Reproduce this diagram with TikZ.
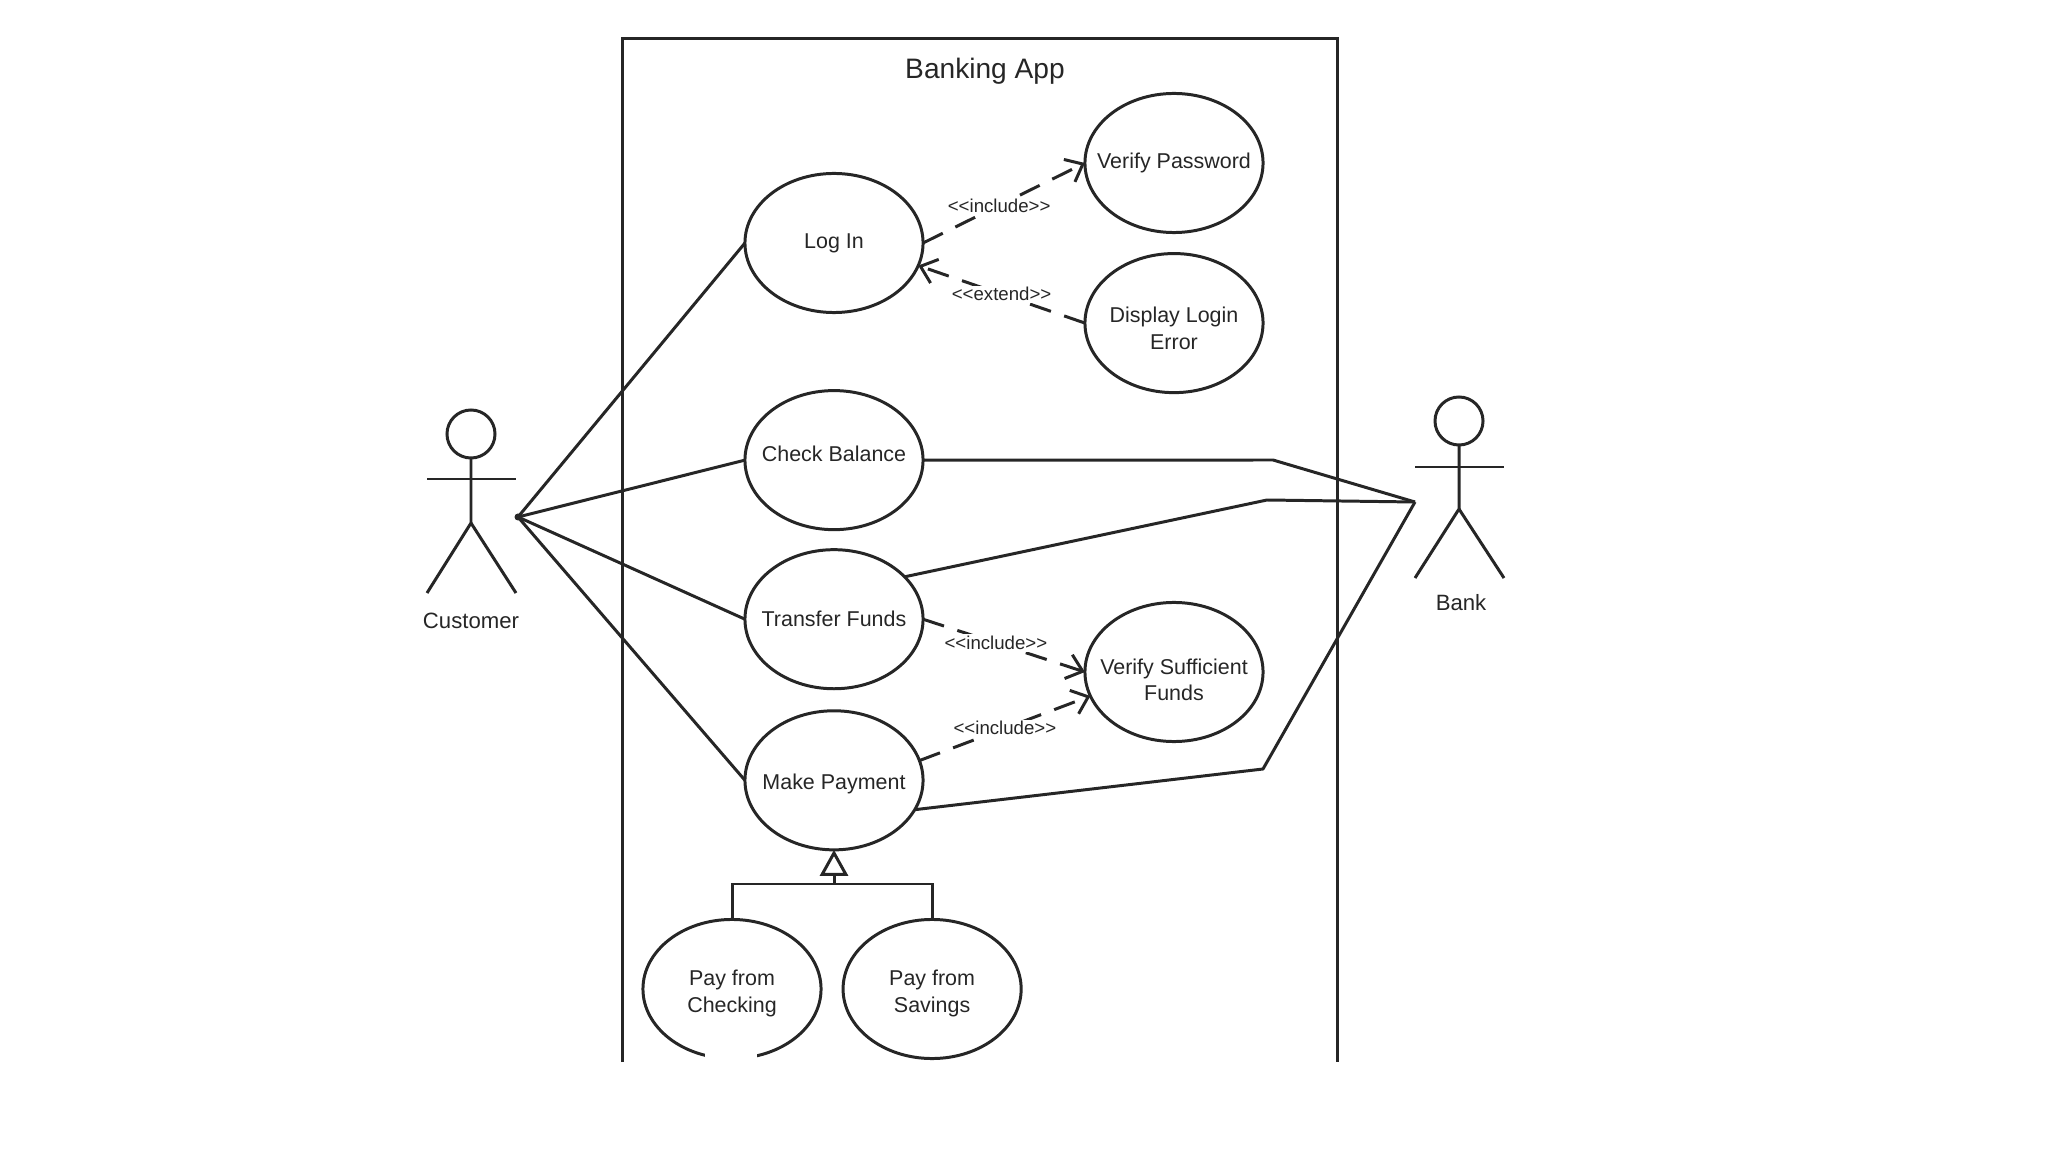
\documentclass[tikz,border=0pt]{standalone}
\usepackage{fontspec}
\setmainfont{Liberation Sans}
\usetikzlibrary{shapes.geometric,arrows.meta,positioning}

\newcommand{\stereotype}[1]{\fontsize{5.3}{6}\selectfont <{}<#1>{}>}

\begin{document}
\begin{tikzpicture}[x=0.01cm, y=-0.01cm, >={Straight Barb[length=1.5mm,width=2.5mm]}, line width=0.85pt, black!85] % Styles
\tikzstyle{usecase}=[draw, ellipse, align=center, inner xsep=-0.45cm, inner ysep=-0.1cm, outer sep=0pt, minimum width=1.78cm, minimum height=1.39cm, font=\fontsize{6.1}{7.6}\selectfont]
\tikzstyle{actorhead}=[draw, circle, inner sep=0pt, outer sep=0pt, minimum size=0.48cm]
\tikzstyle{actorname}=[font=\fontsize{6.3}{7.4}\selectfont]
\tikzstyle{hub}=[fill, circle, inner sep=0pt, minimum size=0.07cm]
\tikzstyle{dep}=[->, dash pattern=on 2.2mm off 1.4mm]
\tikzstyle{deplabel}=[fill=white, inner xsep=0pt, inner ysep=0.5pt]
\useasboundingbox (0,0) rectangle (2048,1152);
% System frame
\draw (622,1062) coordinate (frameleft) |- (1337,39) coordinate (frameright) -- (1337,1062);
\node[font=\fontsize{8}{9}\selectfont] (apptitle) at (985,71) {Banking App};
% Use cases
\node[usecase] (login) at (834,243) {Log In};
\node[usecase, below=0.78cm of login, text depth=3.6pt] (checkbal) {Check Balance};
\node[usecase, below=0.20cm of checkbal] (transfer) {Transfer Funds};
\node[usecase, below=0.22cm of transfer, text height=6.6pt] (makepay) {Make Payment};
\node[usecase] (verifypw) at (1174,163) {Verify Password};
\node[usecase, below=0.21cm of verifypw, text height=14.8pt] (loginerr) {Display Login\\Error};
\node[usecase, text height=16.4pt] (verifyfunds) at (1174,672) {Verify Sufficient\\Funds};
\node[usecase, text height=14.4pt] (paycheck) at (732,989) {Pay from\\Checking};
\node[usecase, right=0.22cm of paycheck, text height=14.4pt] (paysave) {Pay from\\Savings};
\fill[white] (705,1050) rectangle (757,1066);
% Customer
\node[actorhead] (customerhead) at (471,434) {};
\draw (customerhead.south) -- ++(0,65) coordinate (customerhip) -- ++(-44,70);
\draw (customerhip) -- ++(45,70);
\draw (427,479) coordinate (customerarm) -- ++(89,0);
\node[actorname] (customer) at (471,621) {Customer};
\node[hub] (customerhub) at (518,517) {};
% Bank
\node[actorhead] (bankhead) at (1459,421) {};
\draw (bankhead.south) -- ++(0,64) coordinate (bankhip) -- ++(-44,69);
\draw (bankhip) -- ++(45,69);
\draw (1415,467) coordinate (bankarm) -- ++(89,0);
\node[actorname] (bank) at (1461,603) {Bank};
\coordinate (bankhub) at (1415,502);
% Customer connections
\draw (customerhub.center) -- (login.west);
\draw (customerhub.center) -- (checkbal.west);
\draw (customerhub.center) -- (transfer.west);
\draw (customerhub.center) -- (makepay.west);
% Bank connections
\draw[line join=round] (checkbal.east) -- (1273,460) coordinate (checkbend) -- (bankhub);
\draw[line join=round] (transfer.31) -- (1267,500) coordinate (transferbend) -- (bankhub);
\draw[line join=round] (makepay.-20) -- (1263,769) coordinate (paybend) -- (bankhub);
% Dependencies
\draw[dep] (login.east) -- node[deplabel, pos=0.47]{\stereotype{include}} (verifypw.west);
\draw[dep] (loginerr.west) -- node[deplabel, midway]{\stereotype{extend}} (login.-15);
\draw[dep] (transfer.east) -- node[deplabel, pos=0.45]{\stereotype{include}} (verifyfunds.west);
\draw[dep] (makepay.13) -- node[deplabel, midway]{\stereotype{include}} (verifyfunds.196);
% Generalization
\coordinate (genbus) at (834,884);
\draw (paycheck.north) |- (genbus) -| (paysave.north);
\draw[-{Triangle[open,length=2.6mm,width=2.8mm]}] (genbus) -- (makepay.south);
\end{tikzpicture}
\end{document}
